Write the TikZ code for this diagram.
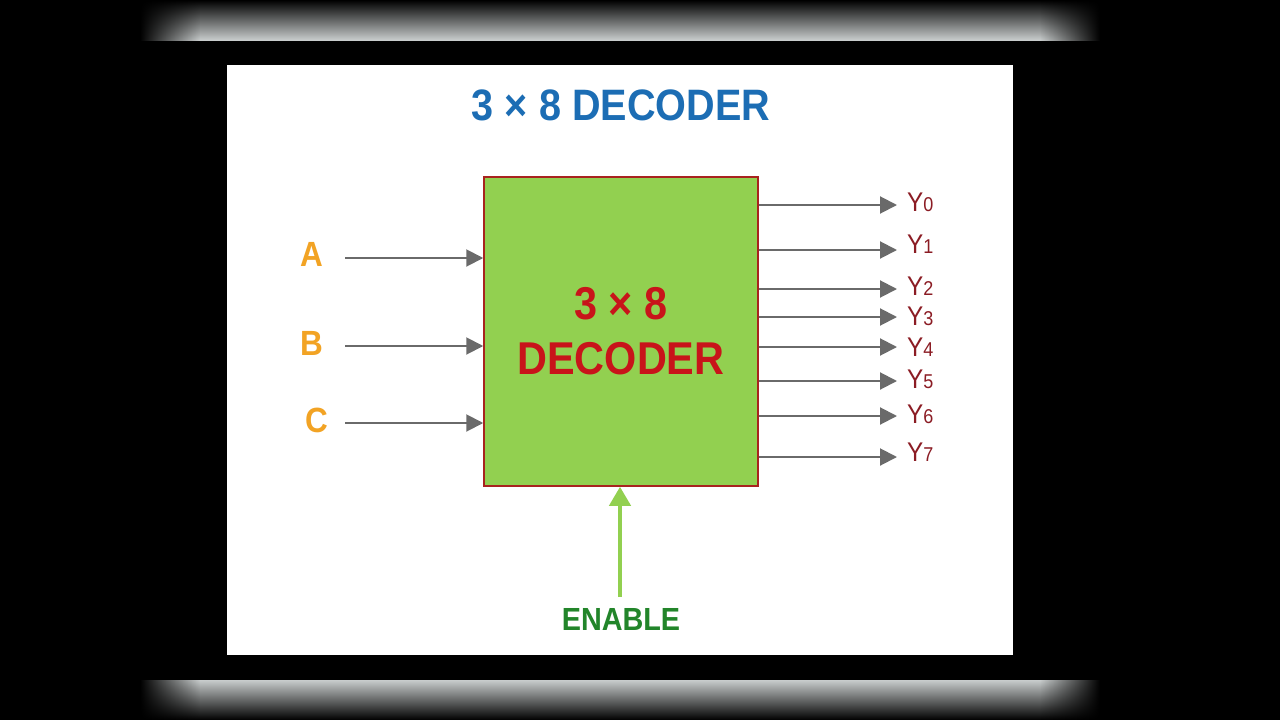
\documentclass[tikz,border=0pt]{standalone}
\usepackage{fontspec}
\setmainfont{Liberation Sans}[FakeStretch=0.9]
\usetikzlibrary{arrows.meta,fadings}
\definecolor{titleblue}{HTML}{1C6DB4}
\definecolor{boxgreen}{HTML}{92D050}
\definecolor{boxred}{HTML}{A8231E}
\definecolor{decred}{HTML}{C8141A}
\definecolor{inorange}{HTML}{F2A324}
\definecolor{outred}{HTML}{8B1C24}
\definecolor{arrgray}{HTML}{6A6A6A}
\definecolor{engreen}{HTML}{22852A}
\definecolor{barlight}{HTML}{C8CCCC}
\tikzfading[name=fadeR, left color=transparent!0, right color=transparent!100]
\tikzfading[name=fadeL, left color=transparent!100, right color=transparent!0]
\begin{document}
\begin{tikzpicture}[x=1pt,y=-1pt,
  arr/.style={draw=arrgray, line width=2pt, -{Triangle[length=17pt,width=17pt]}},
  enarr/.style={draw=boxgreen, line width=4pt, -{Triangle[length=19pt,width=21pt]}},
  inlbl/.style={text=inorange, inner sep=0, font=\fontsize{35}{35}\selectfont\bfseries},
  outlbl/.style={text=outred, inner sep=0, anchor=west, font=\fontsize{27}{27}\selectfont},
  topbar/.style={top color=black, bottom color=barlight},
  botbar/.style={top color=barlight, bottom color=black}]
\useasboundingbox (0,0) rectangle (1280,720);
\fill[black] (0,0) rectangle (1280,720);
% blurred bars of the video frame
\fill[topbar] (200,0) rectangle (1040,40);
\fill[topbar, path fading=fadeL] (140,0) rectangle (200,40);
\fill[topbar, path fading=fadeR] (1040,0) rectangle (1100,40);
\fill[botbar] (200,680) rectangle (1040,720);
\fill[botbar, path fading=fadeL] (140,680) rectangle (200,720);
\fill[botbar, path fading=fadeR] (1040,680) rectangle (1100,720);
% white panel
\fill[white] (227,65) rectangle (1013,655);
% title
\node[text=titleblue, inner sep=0, font=\fontsize{44}{44}\selectfont\bfseries] (title) at (621,105) {3 × 8 DECODER};
% decoder box
\node[draw=boxred, fill=boxgreen, line width=1.5pt, minimum width=274pt, minimum height=309pt,
  inner sep=0, align=center, text=decred, font=\fontsize{46}{55}\selectfont\bfseries] (dec) at (621,331.5) {3 × 8\\DECODER};
% inputs
\node[inlbl] (A) at (312,254) {A};
\node[inlbl] (B) at (312,343) {B};
\node[inlbl] (C) at (317,420) {C};
\coordinate (a0) at (345,258);
\coordinate (b0) at (345,346);
\coordinate (c0) at (345,423);
\draw[arr] (a0) -- (a0 -| dec.west);
\draw[arr] (b0) -- (b0 -| dec.west);
\draw[arr] (c0) -- (c0 -| dec.west);
% outputs
\foreach \i/\ay/\ly in {0/205/202, 1/250/244, 2/289/286, 3/317/316, 4/347/347, 5/381/379, 6/416/414, 7/457/452}{
  \coordinate (o\i) at (897,\ay);
  \draw[arr] (o\i -| dec.east) -- (o\i);
  \node[outlbl] (Y\i) at (907,\ly) {Y{\fontsize{20}{20}\selectfont\i}};
}
% enable
\node[text=engreen, inner sep=0, font=\fontsize{32}{32}\selectfont\bfseries] (en) at (621,619) {ENABLE};
\coordinate (e0) at (620,597);
\draw[enarr] (e0) -- (e0 |- dec.south);
\end{tikzpicture}
\end{document}
